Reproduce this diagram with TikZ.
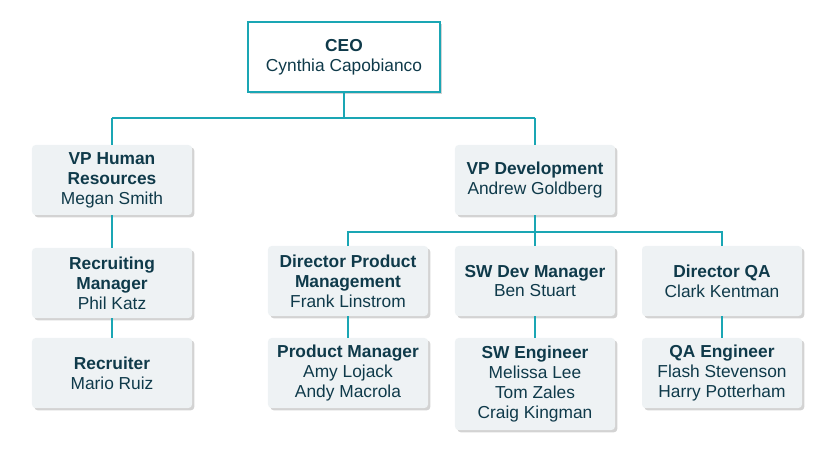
\documentclass[tikz,border=0pt]{standalone}
\usepackage{fontspec}
\setmainfont{Liberation Sans}
\usetikzlibrary{shadows}
\definecolor{teal1}{HTML}{1AA6B4}
\definecolor{boxfill}{HTML}{EEF2F4}
\definecolor{txt}{HTML}{0F3A4A}
\begin{document}
\begin{tikzpicture}[x=0.03cm,y=-0.03cm,
		box/.style={rounded corners=3pt, fill=boxfill, minimum width=4.8cm, minimum height=2.1cm, inner sep=1pt, align=center, text=txt, font=\fontsize{14.8}{17}\selectfont, drop shadow={shadow xshift=2pt, shadow yshift=-2pt, opacity=0.35}},
		ceo/.style={fill=white, draw=teal1, line width=1.2pt, minimum width=5.76cm, minimum height=2.1cm, align=center, text=txt, font=\fontsize{14.8}{17}\selectfont, drop shadow={shadow xshift=2pt, shadow yshift=-2pt, opacity=0.35}},
		link/.style={teal1, line width=1.2pt},
	]
		\useasboundingbox (0,0) rectangle (829,457);

		\node[ceo] (ceo) at (344,57) {\textbf{CEO}\\Cynthia Capobianco};
		\node[box] (vphr) at (112,180) {\textbf{VP Human}\\\textbf{Resources}\\Megan Smith};
		\node[box] (vpdev) at (535,180) {\textbf{VP Development}\\Andrew Goldberg};
		\node[box] (recman) at (112,283) {\textbf{Recruiting}\\\textbf{Manager}\\Phil Katz};
		\node[box] (recr) at (112,373) {\textbf{Recruiter}\\Mario Ruiz};
		\node[box] (dirpm) at (348,281) {\textbf{Director Product}\\\textbf{Management}\\Frank Linstrom};
		\node[box] (swdm) at (535,281) {\textbf{SW Dev Manager}\\Ben Stuart};
		\node[box] (dirqa) at (722,281) {\textbf{Director QA}\\Clark Kentman};
		\node[box] (pm) at (348,373) {\textbf{Product Manager}\\Amy Lojack\\Andy Macrola};
		\node[box, minimum height=2.76cm] (swe) at (535,384) {\textbf{SW Engineer}\\Melissa Lee\\Tom Zales\\Craig Kingman};
		\node[box] (qae) at (722,373) {\textbf{QA Engineer}\\Flash Stevenson\\Harry Potterham};

		% connectors
		\draw[link] (ceo.south) |- (112,118) coordinate (hl);
		\draw[link] (ceo.south) |- (535,118) coordinate (hr);
		\draw[link] (hl) -- (vphr.north);
		\draw[link] (hr) -- (vpdev.north);
		\draw[link] (vpdev.south) |- (348,232) coordinate (dl) -- (dirpm.north);
		\draw[link] (vpdev.south) |- (722,232) coordinate (dr) -- (dirqa.north);
		\draw[link] (vpdev.south) -- (swdm.north);
		\draw[link] (vphr) -- (recman);
		\draw[link] (recman) -- (recr);
		\draw[link] (dirpm) -- (pm);
		\draw[link] (swdm) -- (swe);
		\draw[link] (dirqa) -- (qae);
	\end{tikzpicture}
\end{document}
